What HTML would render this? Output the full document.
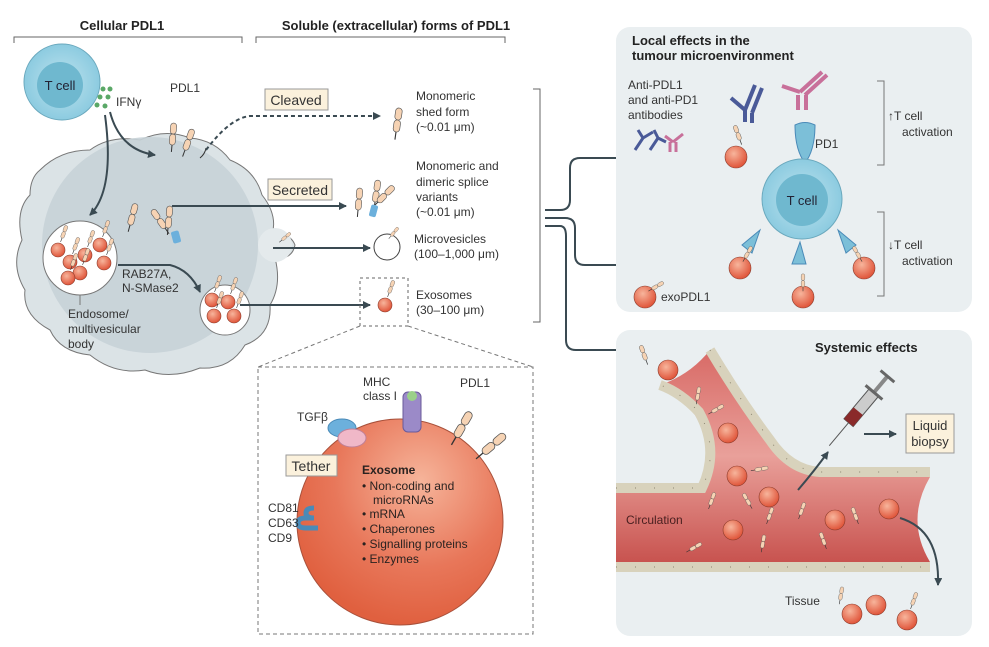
<!DOCTYPE html>
<html><head><meta charset="utf-8"><style>
html,body{margin:0;padding:0;background:#fff;}
svg{display:block;font-family:"Liberation Sans",sans-serif;}
</style></head><body>
<svg width="989" height="647" viewBox="0 0 989 647" xmlns="http://www.w3.org/2000/svg">
<defs>
<radialGradient id="orb" cx="40%" cy="35%" r="65%"><stop offset="0" stop-color="#f7b59c"/><stop offset="1" stop-color="#e0553a"/></radialGradient>
<radialGradient id="big" cx="60%" cy="30%" r="70%"><stop offset="0" stop-color="#f6b49a"/><stop offset=".6" stop-color="#e8775a"/><stop offset="1" stop-color="#e0603f"/></radialGradient>
<radialGradient id="tc" cx="50%" cy="50%" r="50%"><stop offset="0" stop-color="#bfe3ee"/><stop offset="1" stop-color="#8ccbe0"/></radialGradient>
<linearGradient id="blood" x1="0" y1="0" x2="0" y2="1"><stop offset="0" stop-color="#d86a66"/><stop offset=".5" stop-color="#e9a09a"/><stop offset="1" stop-color="#c8534f"/></linearGradient>
<marker id="ar" markerWidth="8" markerHeight="8" refX="7" refY="4" orient="auto" markerUnits="userSpaceOnUse"><path d="M0,0 L8,4 L0,8 z" fill="#3a4a52"/></marker>
<g id="pd"><rect x="-3" y="-22" width="6" height="11" rx="3" fill="#f6d3b4" stroke="#555" stroke-width=".6"/><rect x="-3" y="-11" width="6" height="11" rx="3" fill="#f6d3b4" stroke="#555" stroke-width=".6"/><line x1="0" y1="0" x2="0" y2="7" stroke="#333" stroke-width="1"/></g>
<g id="exo"><use href="#pd" transform="translate(4,-12) rotate(20) scale(.6)"/><circle r="7" fill="url(#orb)" stroke="#8a3a2a" stroke-width=".6"/></g>
</defs>

<g font-weight="bold" font-size="13" fill="#222">
<text x="122" y="30" text-anchor="middle">Cellular PDL1</text>
<text x="396" y="30" text-anchor="middle">Soluble (extracellular) forms of PDL1</text>
</g>
<path d="M14,43 V37 H242 V43 M256,43 V37 H505 V43" fill="none" stroke="#666" stroke-width="1"/>

<path d="M40,170 Q60,150 90,150 Q110,135 140,140 Q165,128 190,138 Q215,140 230,160 Q255,170 262,195 Q278,215 272,235 Q290,232 295,245 Q292,260 275,258 Q282,285 270,305 Q272,335 245,345 Q230,370 200,368 Q170,380 145,370 Q115,375 90,355 Q60,352 50,330 Q22,315 25,290 Q10,265 22,240 Q15,210 30,195 Q30,178 40,170 Z" fill="#dbe3e6" stroke="#777" stroke-width="1"/>
<circle cx="150" cy="245" r="108" fill="#c7d2d7" opacity=".9"/>
<circle cx="275" cy="245" r="17" fill="#e4eaec"/>
<use href="#pd" transform="translate(282,240) rotate(50) scale(.5)"/>

<circle cx="62" cy="82" r="38" fill="url(#tc)" stroke="#6aa8bd"/>
<circle cx="60" cy="85" r="23" fill="#6fb8cf"/>
<text x="60" y="90" text-anchor="middle" font-size="13" fill="#223">T cell</text>
<g fill="#5aa867"><circle cx="103" cy="89" r="2.5"/><circle cx="110" cy="89" r="2.5"/><circle cx="100" cy="97" r="2.5"/><circle cx="108" cy="97" r="2.5"/><circle cx="97" cy="105" r="2.5"/><circle cx="105" cy="106" r="2.5"/></g>
<text x="116" y="106" font-size="12" fill="#333">IFNγ</text>
<path d="M110,112 Q120,150 155,155" fill="none" stroke="#3a4a52" stroke-width="2" marker-end="url(#ar)"/>
<path d="M105,115 Q115,190 90,215" fill="none" stroke="#3a4a52" stroke-width="2" marker-end="url(#ar)"/>
<text x="170" y="92" font-size="12" fill="#333">PDL1</text>
<use href="#pd" transform="translate(172,145) rotate(5)"/>
<use href="#pd" transform="translate(185,150) rotate(20)"/>
<path d="M200,158 q5,-4 6,-10" stroke="#333" fill="none"/>
<use href="#pd" transform="translate(130,225) rotate(15)"/>
<use href="#pd" transform="translate(165,228) rotate(-35)"/>
<use href="#pd" transform="translate(168,228) rotate(5)"/>
<rect x="172" y="231" width="8" height="12" rx="2" fill="#6cb0dc" transform="rotate(-15 176 237)"/>

<circle cx="80" cy="258" r="37" fill="#fff" stroke="#777"/>
<g><use href="#exo" transform="translate(58,250)"/><use href="#exo" transform="translate(100,245)"/><use href="#exo" transform="translate(70,262)"/><use href="#exo" transform="translate(85,255)"/><use href="#exo" transform="translate(104,263)"/><use href="#exo" transform="translate(80,273)"/><use href="#exo" transform="translate(68,278)"/></g>
<line x1="80" y1="295" x2="80" y2="305" stroke="#777"/>
<text font-size="12" fill="#333"><tspan x="68" y="318">Endosome/</tspan><tspan x="68" y="333">multivesicular</tspan><tspan x="68" y="348">body</tspan></text>
<text font-size="12" fill="#333"><tspan x="122" y="278">RAB27A,</tspan><tspan x="122" y="292">N-SMase2</tspan></text>
<path d="M118,265 H170 Q190,270 200,292" fill="none" stroke="#3a4a52" stroke-width="2" marker-end="url(#ar)"/>
<circle cx="225" cy="310" r="25" fill="#fff" stroke="#777"/>
<use href="#exo" transform="translate(212,300)"/><use href="#exo" transform="translate(228,302)"/><use href="#exo" transform="translate(214,316)"/><use href="#exo" transform="translate(234,316)"/>

<path d="M206,150 Q230,118 250,116 H380" fill="none" stroke="#3a4a52" stroke-width="2" stroke-dasharray="4,3" marker-end="url(#ar)"/>
<path d="M172,206 H346" fill="none" stroke="#3a4a52" stroke-width="2" marker-end="url(#ar)"/>
<path d="M273,248 H370" fill="none" stroke="#3a4a52" stroke-width="2" marker-end="url(#ar)"/>
<path d="M240,305 H370" fill="none" stroke="#3a4a52" stroke-width="2" marker-end="url(#ar)"/>
<rect x="265" y="89" width="63" height="21" fill="#fbf1dc" stroke="#999"/>
<text x="296" y="105" text-anchor="middle" font-size="14" fill="#333">Cleaved</text>
<rect x="268" y="179" width="64" height="21" fill="#fbf1dc" stroke="#999"/>
<text x="300" y="195" text-anchor="middle" font-size="14" fill="#333">Secreted</text>

<use href="#pd" transform="translate(396,132) rotate(8) scale(1.1)"/>
<use href="#pd" transform="translate(358,210) rotate(5)"/>
<use href="#pd" transform="translate(375,202) rotate(8)"/>
<use href="#pd" transform="translate(378,202) rotate(45)"/>
<rect x="370" y="205" width="7" height="12" rx="2" fill="#6cb0dc" transform="rotate(15 374 211)"/>
<circle cx="387" cy="247" r="13" fill="#fff" stroke="#444"/>
<use href="#pd" transform="translate(391,236) rotate(40) scale(.5)"/>
<rect x="360" y="278" width="48" height="48" fill="none" stroke="#666" stroke-dasharray="3,3"/>
<use href="#exo" transform="translate(385,305)"/>
<g font-size="12" fill="#333">
<text><tspan x="416" y="100">Monomeric</tspan><tspan x="416" y="116">shed form</tspan><tspan x="416" y="131">(~0.01 μm)</tspan></text>
<text><tspan x="416" y="170">Monomeric and</tspan><tspan x="416" y="186">dimeric splice</tspan><tspan x="416" y="201">variants</tspan><tspan x="416" y="216">(~0.01 μm)</tspan></text>
<text><tspan x="414" y="243">Microvesicles</tspan><tspan x="414" y="258">(100–1,000 μm)</tspan></text>
<text><tspan x="416" y="299">Exosomes</tspan><tspan x="416" y="314">(30–100 μm)</tspan></text>
</g>
<path d="M533,89 H540 V322 H533" fill="none" stroke="#666"/>
<path d="M545,210 H560 Q570,210 570,200 V168 Q570,158 580,158 H716" fill="none" stroke="#3a4a52" stroke-width="2" marker-end="url(#ar)"/>
<path d="M545,218 H565 Q575,218 575,228 V255 Q575,265 585,265 H716" fill="none" stroke="#3a4a52" stroke-width="2" marker-end="url(#ar)"/>
<path d="M545,226 H560 Q566,226 566,236 V340 Q566,350 576,350 H630" fill="none" stroke="#3a4a52" stroke-width="2" marker-end="url(#ar)"/>

<path d="M360,326 L258,367 M408,326 L533,367" stroke="#777" stroke-dasharray="4,3"/>
<rect x="258" y="367" width="275" height="267" fill="#fff" stroke="#777" stroke-dasharray="4,3"/>
<circle cx="400" cy="522" r="103" fill="url(#big)" stroke="#a8503a"/>
<rect x="403" y="392" width="18" height="40" rx="5" fill="#9b8ac8" stroke="#6a5a9a"/>
<circle cx="412" cy="396" r="5" fill="#9bd08a"/>
<ellipse cx="342" cy="428" rx="14" ry="9" fill="#6cb0dc" stroke="#4a8ab8"/>
<ellipse cx="352" cy="438" rx="14" ry="9" fill="#f0b8c8" stroke="#c08098"/>
<use href="#pd" transform="translate(456,437) rotate(30) scale(1.3)"/>
<use href="#pd" transform="translate(483,453) rotate(50) scale(1.3)"/>
<text font-size="12" fill="#333"><tspan x="363" y="386">MHC</tspan><tspan x="363" y="400">class I</tspan></text>
<text x="460" y="387" font-size="12" fill="#333">PDL1</text>
<text x="297" y="421" font-size="12" fill="#333">TGFβ</text>
<rect x="286" y="455" width="51" height="21" fill="#fbf1dc" stroke="#999"/>
<text x="311" y="471" text-anchor="middle" font-size="14" fill="#333">Tether</text>
<path d="M314,508 q-8,0 -8,5 q0,5 8,5 h-8 q-8,0 -8,5 q0,5 8,5 h12" fill="none" stroke="#4a8ab8" stroke-width="5"/>
<g font-size="12" fill="#333"><text x="268" y="512">CD81</text><text x="268" y="527">CD63</text><text x="268" y="542">CD9</text></g>
<g font-size="12" fill="#2a2220">
<text x="362" y="474" font-weight="bold">Exosome</text>
<text x="362" y="490">• Non-coding and</text><text x="373" y="504">microRNAs</text>
<text x="362" y="518">• mRNA</text><text x="362" y="533">• Chaperones</text><text x="362" y="548">• Signalling proteins</text><text x="362" y="563">• Enzymes</text>
</g>

<rect x="616" y="27" width="356" height="285" rx="14" fill="#eaeff1"/>
<text font-size="13" font-weight="bold" fill="#222"><tspan x="632" y="45">Local effects in the</tspan><tspan x="632" y="60">tumour microenvironment</tspan></text>
<text font-size="12" fill="#333"><tspan x="628" y="89">Anti-PDL1</tspan><tspan x="628" y="104">and anti-PD1</tspan><tspan x="628" y="119">antibodies</tspan></text>
<path d="M635,150 l8,-12 M643,138 l-5,-8 M643,138 l10,-6 M650,150 l8,-12 M658,138 l-4,-8 M658,138 l8,4" stroke="#4a5a98" stroke-width="3"/>
<path d="M670,152 v-10 M676,152 v-10 M673,142 l-8,-6 M673,142 l10,-8" stroke="#c8709a" stroke-width="3"/>
<path d="M745,110 l-14,-12 M745,110 l10,-25 M752,113 l10,-25 M745,110 v12 M752,113 v10" stroke="#4a5a98" stroke-width="4"/>
<path d="M800,92 l-18,-6 M800,92 l22,-20 M805,95 l22,-20 M798,95 v15 M806,95 v15" stroke="#c8709a" stroke-width="4"/>
<use href="#pd" transform="translate(740,140) rotate(-20) scale(.7)"/>
<circle cx="736" cy="157" r="11" fill="url(#orb)" stroke="#8a3a2a" stroke-width=".6"/>
<path d="M795,125 q10,-5 20,0 q0,25 -10,38 q-10,-13 -10,-38z" fill="#7cbfd8" stroke="#4a8ab8"/>
<text x="815" y="148" font-size="12" fill="#333">PD1</text>
<circle cx="802" cy="199" r="40" fill="url(#tc)" stroke="#6aa8bd"/>
<circle cx="802" cy="200" r="26" fill="#6fb8cf"/>
<text x="802" y="205" text-anchor="middle" font-size="13" fill="#223">T cell</text>
<path d="M760,230 l-18,15 l10,8 z M800,242 l-8,22 h14 z M838,230 l18,15 l-10,8 z" fill="#7cbfd8" stroke="#4a8ab8"/>
<circle cx="740" cy="268" r="11" fill="url(#orb)" stroke="#8a3a2a" stroke-width=".6"/>
<circle cx="803" cy="297" r="11" fill="url(#orb)" stroke="#8a3a2a" stroke-width=".6"/>
<circle cx="864" cy="268" r="11" fill="url(#orb)" stroke="#8a3a2a" stroke-width=".6"/>
<use href="#pd" transform="translate(745,258) rotate(30) scale(.6)"/>
<use href="#pd" transform="translate(803,287) scale(.6)"/>
<use href="#pd" transform="translate(860,258) rotate(-30) scale(.6)"/>
<circle cx="645" cy="297" r="11" fill="url(#orb)" stroke="#8a3a2a" stroke-width=".6"/>
<use href="#pd" transform="translate(652,289) rotate(60) scale(.6)"/>
<text x="661" y="301" font-size="12" fill="#333">exoPDL1</text>
<path d="M877,81 H884 V165 H877 M877,212 H884 V296 H877" fill="none" stroke="#777"/>
<text font-size="12" fill="#333"><tspan x="888" y="120">↑T cell</tspan><tspan x="902" y="136">activation</tspan><tspan x="888" y="249">↓T cell</tspan><tspan x="902" y="265">activation</tspan></text>

<rect x="616" y="330" width="356" height="306" rx="14" fill="#eaeff1"/>
<text x="815" y="352" font-size="13" font-weight="bold" fill="#222">Systemic effects</text>
<path d="M616,483 L700,483 Q715,450 695,415 Q678,395 660,385 Q690,375 710,350 Q740,400 770,440 Q790,470 820,477 L930,477 Q905,520 930,562 L616,562 Z" fill="url(#blood)"/>
<g fill="none" stroke="#d8d2bc" stroke-width="10">
<path d="M616,488 H702 Q720,450 699,412 Q680,392 660,385"/>
<path d="M710,350 Q740,400 770,440 Q790,470 820,472 H930"/>
<path d="M616,567 H930"/>
</g>
<g fill="none" stroke="#8a8470" stroke-width="1" stroke-dasharray="1,18">
<path d="M616,488 H702 Q720,450 699,412 Q680,392 660,385"/>
<path d="M710,350 Q740,400 770,440 Q790,470 820,472 H930"/>
<path d="M616,567 H930"/>
</g>
<text x="626" y="524" font-size="12" fill="#4a2020">Circulation</text>
<text x="785" y="605" font-size="12" fill="#333">Tissue</text>
<g>
<circle cx="668" cy="370" r="10" fill="url(#orb)" stroke="#8a3a2a" stroke-width=".6"/>
<circle cx="728" cy="433" r="10" fill="url(#orb)" stroke="#8a3a2a" stroke-width=".6"/>
<circle cx="737" cy="476" r="10" fill="url(#orb)" stroke="#8a3a2a" stroke-width=".6"/>
<circle cx="769" cy="497" r="10" fill="url(#orb)" stroke="#8a3a2a" stroke-width=".6"/>
<circle cx="733" cy="530" r="10" fill="url(#orb)" stroke="#8a3a2a" stroke-width=".6"/>
<circle cx="835" cy="520" r="10" fill="url(#orb)" stroke="#8a3a2a" stroke-width=".6"/>
<circle cx="889" cy="509" r="10" fill="url(#orb)" stroke="#8a3a2a" stroke-width=".6"/>
<circle cx="852" cy="614" r="10" fill="url(#orb)" stroke="#8a3a2a" stroke-width=".6"/>
<circle cx="876" cy="605" r="10" fill="url(#orb)" stroke="#8a3a2a" stroke-width=".6"/>
<circle cx="907" cy="620" r="10" fill="url(#orb)" stroke="#8a3a2a" stroke-width=".6"/>
</g>
<g>
<use href="#pd" transform="translate(646,360) rotate(-20) scale(.7)"/>
<use href="#pd" transform="translate(697,400) rotate(10) scale(.6)"/>
<use href="#pd" transform="translate(712,412) rotate(60) scale(.6)"/>
<use href="#pd" transform="translate(755,470) rotate(80) scale(.6)"/>
<use href="#pd" transform="translate(710,505) rotate(20) scale(.6)"/>
<use href="#pd" transform="translate(750,505) rotate(-30) scale(.6)"/>
<use href="#pd" transform="translate(768,520) rotate(20) scale(.6)"/>
<use href="#pd" transform="translate(800,515) rotate(20) scale(.6)"/>
<use href="#pd" transform="translate(825,545) rotate(-20) scale(.6)"/>
<use href="#pd" transform="translate(857,520) rotate(-20) scale(.6)"/>
<use href="#pd" transform="translate(690,550) rotate(60) scale(.6)"/>
<use href="#pd" transform="translate(762,548) rotate(10) scale(.6)"/>
<use href="#pd" transform="translate(840,600) rotate(10) scale(.6)"/>
<use href="#pd" transform="translate(912,605) rotate(20) scale(.6)"/>
</g>
<path d="M798,490 Q815,470 828,452" fill="none" stroke="#3a4a52" stroke-width="2" marker-end="url(#ar)"/>
<path d="M900,518 Q940,530 938,585" fill="none" stroke="#3a4a52" stroke-width="2" marker-end="url(#ar)"/>
<g transform="translate(855,415) rotate(40)">
<rect x="-6" y="-30" width="12" height="40" fill="#ccc" stroke="#555"/>
<rect x="-6" y="-5" width="12" height="15" fill="#8a2a2a"/>
<rect x="-2" y="-50" width="4" height="20" fill="#888"/>
<rect x="-9" y="-52" width="18" height="3" fill="#666"/>
<rect x="-11" y="-31" width="22" height="3" fill="#666"/>
<line x1="0" y1="10" x2="0" y2="40" stroke="#555"/>
</g>
<path d="M864,434 H896" stroke="#3a4a52" stroke-width="2" marker-end="url(#ar)"/>
<rect x="906" y="414" width="48" height="39" fill="#fbf1dc" stroke="#999"/>
<text font-size="13" fill="#333" text-anchor="middle"><tspan x="930" y="430">Liquid</tspan><tspan x="930" y="446">biopsy</tspan></text>
</svg>
</body></html>
